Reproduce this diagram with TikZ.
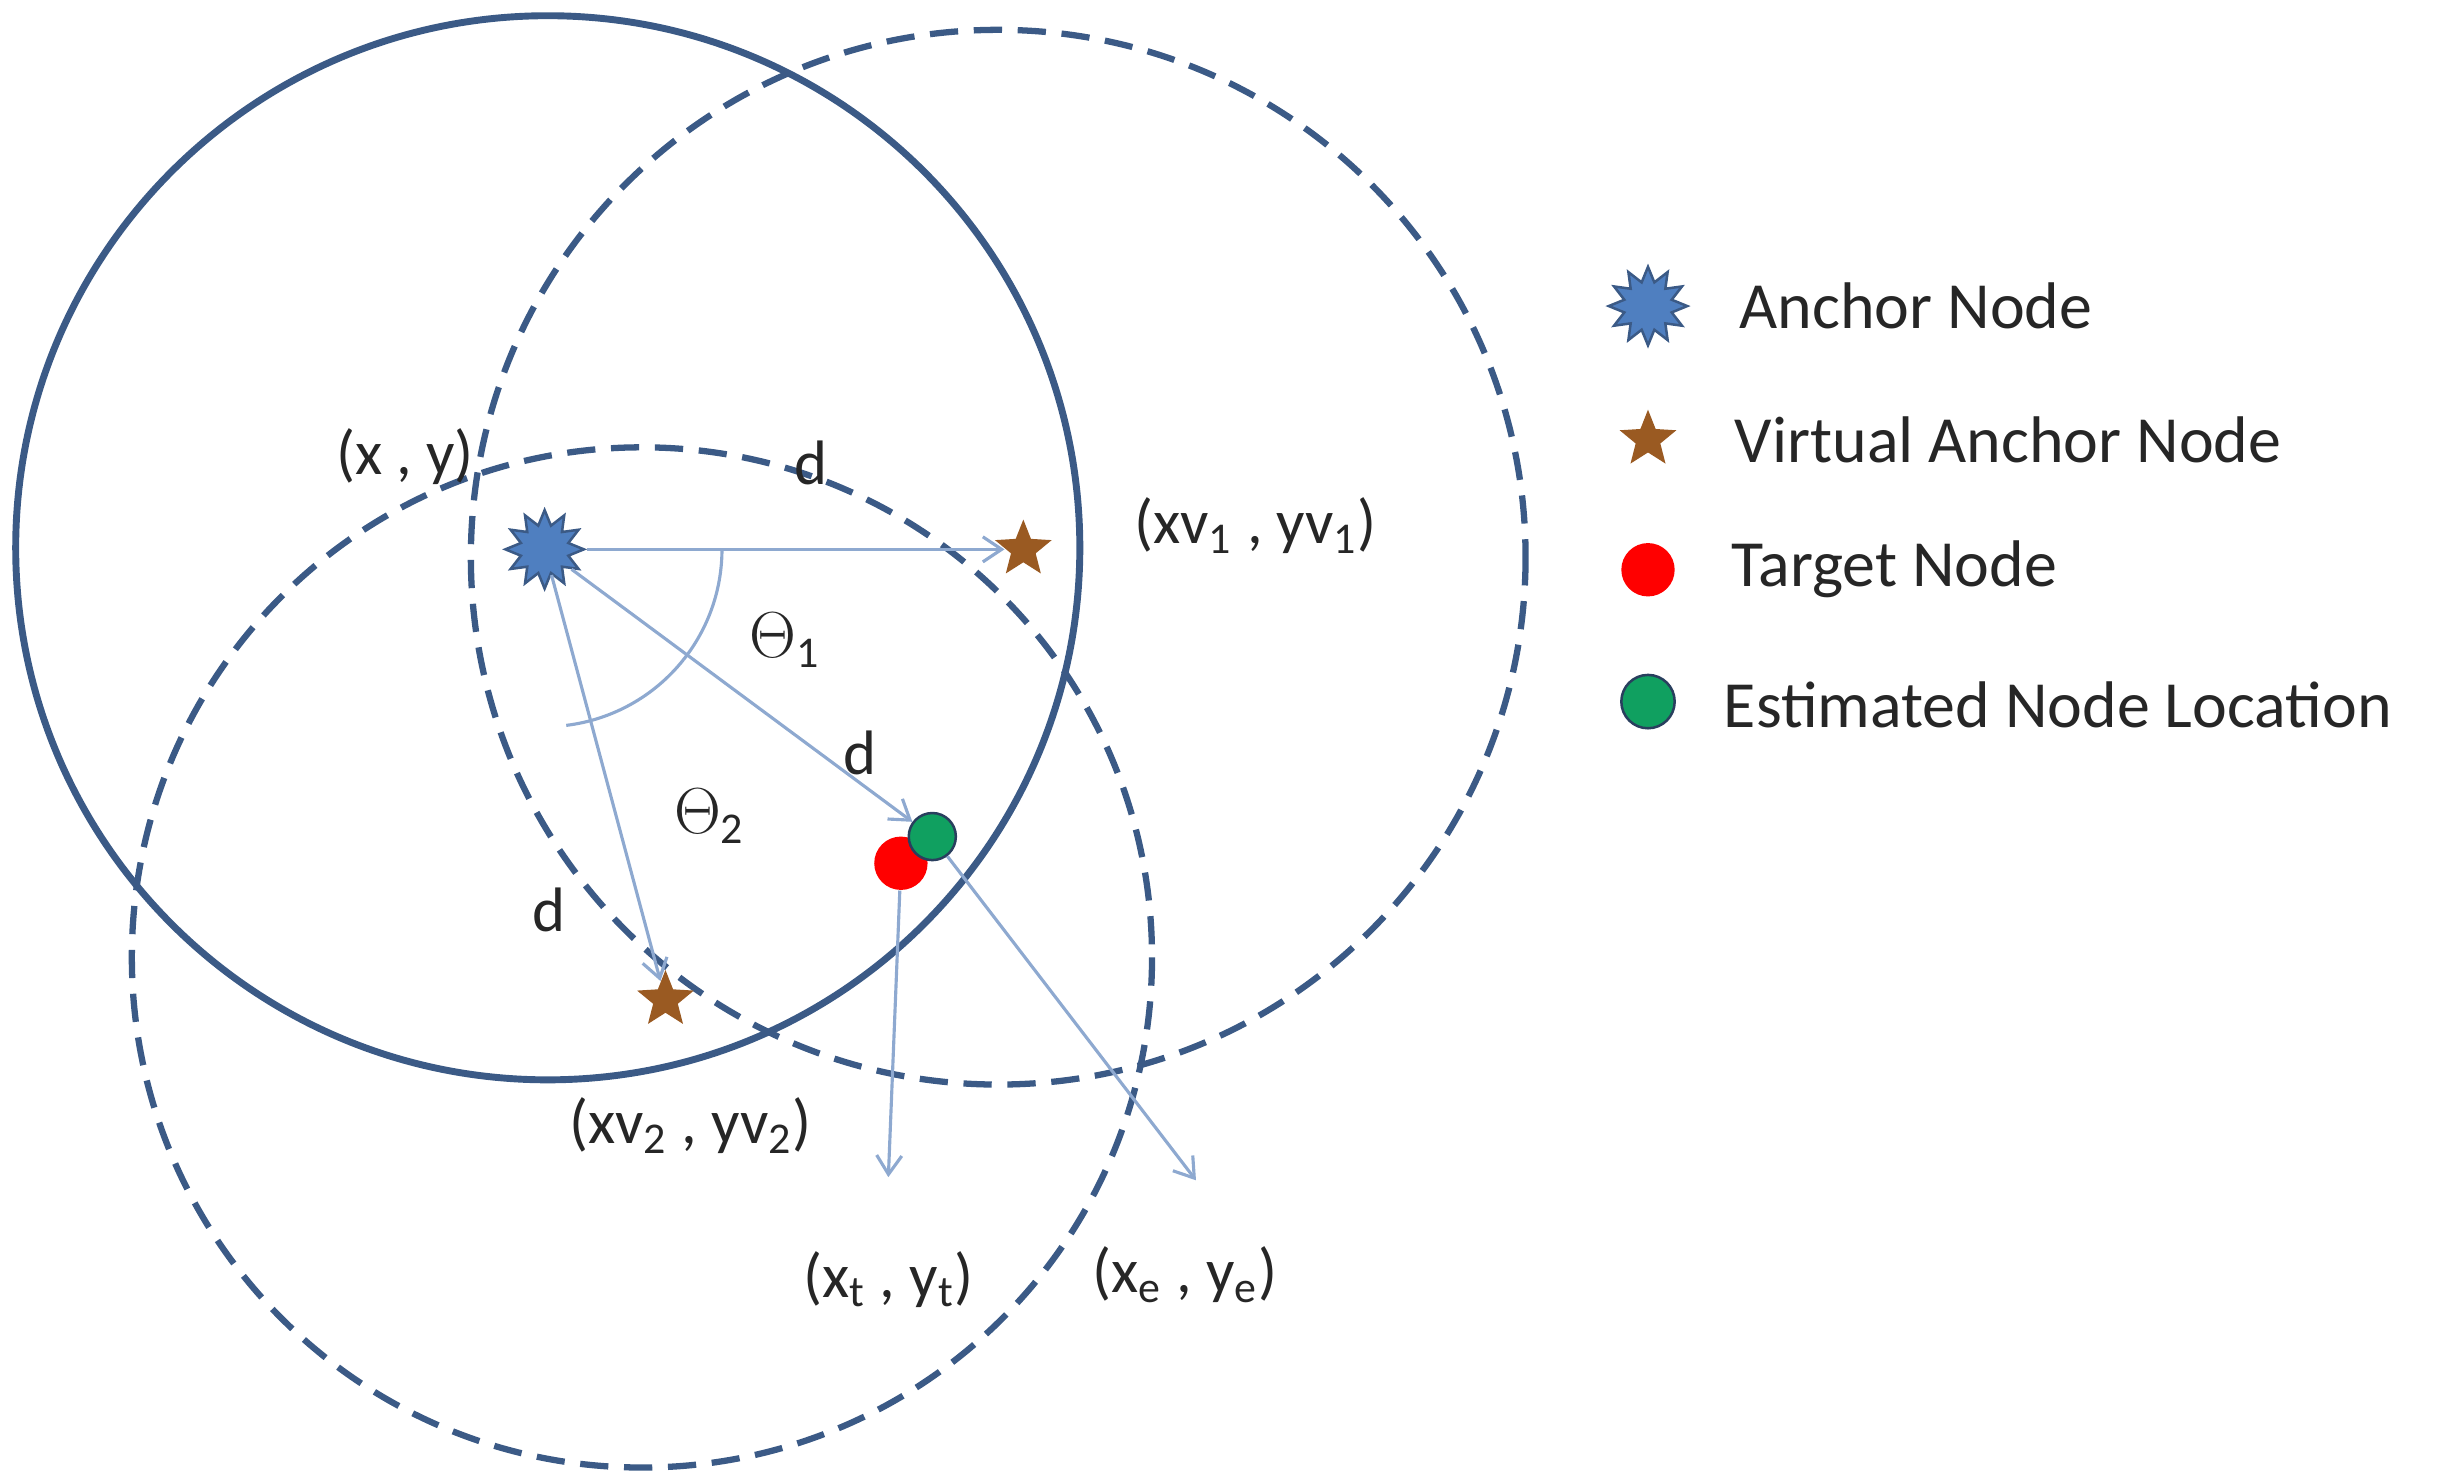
\documentclass[tikz,border=0pt]{standalone}
\usepackage{fontspec}
\setmainfont{Carlito}
\usetikzlibrary{shapes.geometric,arrows.meta}
\definecolor{circ}{HTML}{3B5A86}
\definecolor{arr}{HTML}{8EA9D0}
\definecolor{anc}{HTML}{4F7FC0}
\definecolor{brn}{HTML}{9A5A22}
\definecolor{grn}{HTML}{10A060}
\tikzset{
 solidc/.style={draw=circ,line width=2.2pt},
 dashc/.style={draw=circ,line width=2pt,dash pattern=on 9pt off 5pt},
 arrline/.style={draw=arr,line width=1pt,-{Straight Barb[length=6pt,width=8pt]}},
 anchorsym/.style={star,star points=12,star point ratio=1.6,minimum size=25pt,fill=anc,draw=circ,line width=0.8pt,inner sep=0pt},
 vstar/.style={star,star points=5,star point ratio=2.3,minimum size=19pt,fill=brn,inner sep=0pt},
 reddot/.style={circle,fill=red,minimum size=17pt,inner sep=0pt},
 grndot/.style={circle,fill=grn,draw=circ!70!black,line width=0.8pt,minimum size=15pt,inner sep=0pt},
 lbl/.style={font=\fontsize{20}{24}\selectfont,text=black!85,inner sep=1pt},
 leg/.style={font=\fontsize{21}{25}\selectfont,text=black!85,anchor=west,inner sep=1pt}
}
\begin{document}
\begin{tikzpicture}[x=0.5pt,y=-0.5pt]
\useasboundingbox (0,0) rectangle (1568,944);
\draw[solidc] (349,349) circle[radius=339];
\draw[dashc] (636,355) circle[radius=336];
\draw[dashc] (409,610) circle[radius=325];
% nodes
\node[anchorsym] (A) at (347,350) {};
\node[vstar] (V1) at (652,350) {};
\node[vstar] (V2) at (424,637) {};
\node[reddot] (T) at (574,550) {};
\node[grndot] (E) at (594,533) {};
\coordinate (TT) at (566,750);
\coordinate (EE) at (762,752);
% arrows
\draw[arrline] (A) -- (640,350) coordinate (V1e);
\draw[arrline] (A) -- (E);
\draw[arrline] (A) -- (V2);
\draw[arrline] (T) -- (TT);
\draw[arrline] (E) -- (EE);
% angle arcs
\draw[arr,line width=1pt] (460,350) arc[start angle=0,end angle=38.5,radius=113];
\draw[arr,line width=1pt] ({347+113*cos(38.5)},{350+113*sin(38.5)}) arc[start angle=38.5,end angle=83,radius=113];
% labels
\node[lbl] (lxy) at (258,291) {(x , y)};
\node[lbl] (ld1) at (517,295) {d};
\node[lbl] (lv1) at (800,335) {(xv\textsubscript{1} , yv\textsubscript{1})};
\node[lbl] (lt1) at (500,408) {$\Theta$\textsubscript{1}};
\node[lbl] (ld2) at (548,480) {d};
\node[lbl] (lt2) at (452,520) {$\Theta$\textsubscript{2}};
\node[lbl] (ld3) at (350,580) {d};
\node[lbl] (lv2) at (440,717) {(xv\textsubscript{2} , yv\textsubscript{2})};
\node[lbl] (lt) at (566,815) {(x\textsubscript{t} , y\textsubscript{t})};
\node[lbl] (le) at (755,812) {(x\textsubscript{e} , y\textsubscript{e})};
% legend
\node[anchorsym] (g1) at (1050,195) {};
\node[leg] (g1t) at (1106,195) {Anchor Node};
\node[vstar] (g2) at (1050,280) {};
\node[leg] (g2t) at (1103,280) {Virtual Anchor Node};
\node[reddot] (g3) at (1050,363) {};
\node[leg] (g3t) at (1101,363) {Target Node};
\node[grndot,minimum size=17pt] (g4) at (1050,447) {};
\node[leg] (g4t) at (1096,449) {Estimated Node Location};
\end{tikzpicture}
\end{document}
